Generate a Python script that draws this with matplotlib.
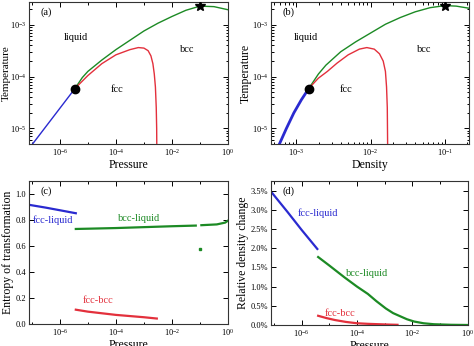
import numpy as np
import matplotlib
matplotlib.use("Agg")
import matplotlib.pyplot as plt
from matplotlib.ticker import FixedLocator, LogLocator, NullFormatter, FuncFormatter, MultipleLocator

plt.rcParams['font.family'] = ['Liberation Serif', 'DejaVu Serif']
plt.rcParams['mathtext.fontset'] = 'stix'

BLUE = '#2a2ad0'
GREEN = '#1c8a24'
RED = '#e3303c'

# ---- (a) phase diagram, pressure vs temperature (log10 values)
a_blue_logP = [-7.0, -5.46]
a_blue_logT = [-5.32, -4.23]
a_green_logP = [-5.46, -5.2, -5.0, -4.5, -4.0, -3.5, -3.0, -2.5, -2.0, -1.5, -1.0, -0.5, 0.0]
a_green_logT = [-4.23, -4.02, -3.90, -3.68, -3.48, -3.30, -3.12, -2.97, -2.84, -2.72, -2.64, -2.65, -2.71]
a_red_logP = [-5.46, -5.0, -4.5, -4.0, -3.5, -3.2, -3.0, -2.85, -2.75, -2.68, -2.63, -2.59, -2.56, -2.545, -2.54]
a_red_logT = [-4.23, -3.98, -3.75, -3.58, -3.48, -3.44, -3.45, -3.50, -3.60, -3.75, -3.95, -4.20, -4.60, -5.00, -5.40]
triple_P, triple_T = 10**-5.46, 10**-4.23
crit_P, crit_T = 10**-1.0, 10**-2.63

# ---- (b) phase diagram, density vs temperature
b_blue_logR = [-3.23, -3.13, -3.03, -2.93, -2.83]
b_blue_logT = [-5.32, -5.00, -4.70, -4.45, -4.23]
b_green_logR = [-2.83, -2.7, -2.6, -2.4, -2.2, -2.0, -1.8, -1.6, -1.4, -1.2, -1.0, -0.85, -0.68]
b_green_logT = [-4.23, -3.95, -3.78, -3.52, -3.33, -3.16, -2.99, -2.86, -2.75, -2.67, -2.63, -2.64, -2.68]
b_red_logR = [-2.83, -2.7, -2.58, -2.45, -2.3, -2.15, -2.05, -1.95, -1.88, -1.83, -1.80, -1.785, -1.775, -1.77]
b_red_logT = [-4.23, -4.03, -3.90, -3.74, -3.58, -3.47, -3.44, -3.47, -3.56, -3.70, -3.90, -4.20, -4.60, -5.40]
triple_R = 10**-2.83
crit_R = 10**-1.0

# ---- (c) entropy of transformation
c_fl_logP = [-7.05, -6.5, -6.0, -5.43]
c_fl_S = [0.915, 0.895, 0.875, 0.852]
c_bl_logP = [-5.43, -5.0, -4.0, -3.0, -2.0, -1.15, np.nan, -0.95, -0.4, -0.1, 0.0]
c_bl_S = [0.731, 0.733, 0.738, 0.745, 0.752, 0.757, np.nan, 0.760, 0.766, 0.780, 0.795]
c_outlier = (10**-1.0, 0.578)
c_fb_logP = [-5.43, -5.0, -4.0, -3.0, -2.54]
c_fb_S = [0.11, 0.095, 0.07, 0.052, 0.042]

# ---- (d) relative density change (%)
d_fl_logP = [-7.05, -6.5, -6.0, -5.43]
d_fl_D = [3.43, 2.94, 2.48, 1.98]
d_bl_logP = [-5.40, -5.0, -4.45, -4.0, -3.61, -3.3, -2.96, -2.7, -2.42, -2.2, -1.94, -1.6, -1.23, -0.6, 0.0]
d_bl_D = [1.77, 1.55, 1.24, 1.0, 0.81, 0.62, 0.43, 0.31, 0.22, 0.15, 0.09, 0.045, 0.02, 0.005, 0.0]
d_fb_logP = [-5.40, -5.1, -4.8, -4.4, -4.0, -3.6, -3.2, -2.8, -2.54]
d_fb_D = [0.24, 0.18, 0.13, 0.08, 0.045, 0.03, 0.02, 0.01, 0.005]

fig = plt.figure(figsize=(4.74, 3.46), dpi=100)
ax_a = fig.add_axes([0.0612, 0.5838, 0.4198, 0.4104])
ax_b = fig.add_axes([0.5717, 0.5838, 0.4177, 0.4104])
ax_c = fig.add_axes([0.0612, 0.0636, 0.4198, 0.4133])
ax_d = fig.add_axes([0.5717, 0.0607, 0.4156, 0.4162])

TICK = 6
LAB = 8.5
TXT = 7.5


def style(ax):
    ax.tick_params(which='both', direction='in', top=True, right=True,
                   labelsize=TICK, pad=2, width=0.7)
    ax.tick_params(which='major', length=3.5)
    ax.tick_params(which='minor', length=1.8)
    for s in ax.spines.values():
        s.set_linewidth(0.8)
        s.set_color('#333333')


def pressure_axis(ax):
    ax.set_xscale('log')
    ax.set_xlim(10**-7.1, 1)
    ax.xaxis.set_major_locator(FixedLocator([1e-6, 1e-4, 1e-2, 1]))
    ax.xaxis.set_minor_locator(FixedLocator([1e-7, 1e-5, 1e-3, 1e-1]))
    ax.xaxis.set_minor_formatter(NullFormatter())
    ax.set_xlabel('Pressure', fontsize=LAB, labelpad=1)


def temp_axis(ax, size=LAB):
    ax.set_yscale('log')
    ax.set_ylim(5e-6, 2.75e-3)
    ax.yaxis.set_major_locator(LogLocator(base=10))
    ax.yaxis.set_minor_locator(LogLocator(base=10, subs=np.arange(2, 10)))
    ax.yaxis.set_minor_formatter(NullFormatter())
    ax.set_ylabel('Temperature', fontsize=size, labelpad=0)


def p10(v):
    return [10**x for x in v]


# (a)
ax_a.plot(p10(a_blue_logP), p10(a_blue_logT), color=BLUE, lw=1)
ax_a.plot(p10(a_green_logP), p10(a_green_logT), color=GREEN, lw=1)
ax_a.plot(p10(a_red_logP), p10(a_red_logT), color=RED, lw=1)
ax_a.plot(triple_P, triple_T, 'o', color='black', ms=6, zorder=5)
ax_a.plot(crit_P, crit_T, '*', color='black', ms=7, zorder=5)
pressure_axis(ax_a)
temp_axis(ax_a, size=8)
ax_a.yaxis.set_label_coords(-0.092, 0.5)
style(ax_a)
ax_a.text(0.06, 0.93, '(a)', transform=ax_a.transAxes, fontsize=TXT, va='center')
ax_a.text(10**-5.43, 10**-3.25, 'liquid', fontsize=TXT, ha='center', va='center')
ax_a.text(10**-3.95, 10**-4.24, 'fcc', fontsize=TXT, ha='center', va='center')
ax_a.text(10**-1.45, 10**-3.47, 'bcc', fontsize=TXT, ha='center', va='center')

# (b)
ax_b.plot(p10(b_blue_logR), p10(b_blue_logT), color=BLUE, lw=2)
ax_b.plot(p10(b_green_logR), p10(b_green_logT), color=GREEN, lw=1)
ax_b.plot(p10(b_red_logR), p10(b_red_logT), color=RED, lw=1)
ax_b.plot(triple_R, triple_T, 'o', color='black', ms=6, zorder=5)
ax_b.plot(crit_R, crit_T, '*', color='black', ms=7, zorder=5)
ax_b.set_xscale('log')
ax_b.set_xlim(4.6e-4, 0.21)
ax_b.xaxis.set_minor_formatter(NullFormatter())
ax_b.set_xlabel('Density', fontsize=LAB, labelpad=1)
temp_axis(ax_b)
style(ax_b)
ax_b.text(0.06, 0.93, '(b)', transform=ax_b.transAxes, fontsize=TXT, va='center')
ax_b.text(10**-2.87, 10**-3.25, 'liquid', fontsize=TXT, ha='center', va='center')
ax_b.text(10**-2.33, 10**-4.24, 'fcc', fontsize=TXT, ha='center', va='center')
ax_b.text(10**-1.28, 10**-3.47, 'bcc', fontsize=TXT, ha='center', va='center')

# (c)
ax_c.plot(p10(c_fl_logP), c_fl_S, color=BLUE, lw=1.6)
ax_c.plot(p10(c_bl_logP), c_bl_S, color=GREEN, lw=1.6)
ax_c.plot(*c_outlier, 's', color=GREEN, ms=1.5)
ax_c.plot(p10(c_fb_logP), c_fb_S, color=RED, lw=1.6)
pressure_axis(ax_c)
ax_c.set_ylim(0, 1.1)
ax_c.yaxis.set_major_locator(MultipleLocator(0.2))
ax_c.yaxis.set_major_formatter(FuncFormatter(lambda v, p: '%.1f' % v))
ax_c.set_ylabel('Entropy of transformation', fontsize=LAB, labelpad=1)
style(ax_c)
ax_c.text(0.06, 0.93, '(c)', transform=ax_c.transAxes, fontsize=TXT, va='center')
ax_c.text(10**-6.25, 0.80, 'fcc-liquid', fontsize=TXT, color=BLUE, ha='center', va='center')
ax_c.text(10**-3.18, 0.81, 'bcc-liquid', fontsize=TXT, color=GREEN, ha='center', va='center')
ax_c.text(10**-4.64, 0.18, 'fcc-bcc', fontsize=TXT, color=RED, ha='center', va='center')

# (d)
ax_d.plot(p10(d_fl_logP), d_fl_D, color=BLUE, lw=1.6)
ax_d.plot(p10(d_bl_logP), d_bl_D, color=GREEN, lw=1.6)
ax_d.plot(p10(d_fb_logP), d_fb_D, color=RED, lw=1.6)
pressure_axis(ax_d)
ax_d.set_ylim(0, 3.75)
ax_d.yaxis.set_major_locator(MultipleLocator(0.5))
ax_d.yaxis.set_major_formatter(FuncFormatter(lambda v, p: '%.1f%%' % v))
ax_d.set_ylabel('Relative density change', fontsize=LAB, labelpad=1)
style(ax_d)
ax_d.text(0.06, 0.93, '(d)', transform=ax_d.transAxes, fontsize=TXT, va='center')
ax_d.text(10**-5.39, 2.9, 'fcc-liquid', fontsize=TXT, color=BLUE, ha='center', va='center')
ax_d.text(10**-3.63, 1.33, 'bcc-liquid', fontsize=TXT, color=GREEN, ha='center', va='center')
ax_d.text(10**-4.6, 0.31, 'fcc-bcc', fontsize=TXT, color=RED, ha='center', va='center')

fig.savefig('out.png', dpi=100)
